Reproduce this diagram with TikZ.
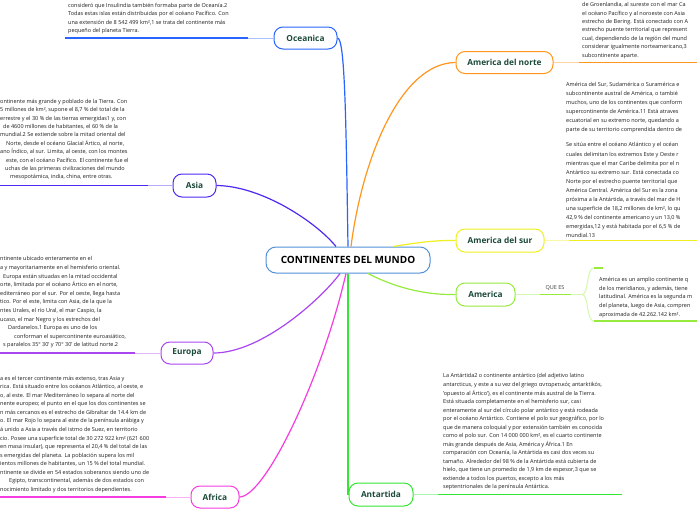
\documentclass[tikz,border=0pt]{standalone}
\usepackage{fontspec}
\setmainfont{Open Sans}
\definecolor{lbl}{RGB}{28,74,56}
\definecolor{txt}{RGB}{30,30,30}
\definecolor{cB}{RGB}{80,145,215}
\definecolor{ocB}{RGB}{40,100,255}
\definecolor{asB}{RGB}{80,40,240}
\definecolor{euB}{RGB}{170,70,240}
\definecolor{afB}{RGB}{245,60,225}
\definecolor{antB}{RGB}{50,230,50}
\definecolor{amB}{RGB}{150,235,60}
\definecolor{amsB}{RGB}{240,240,30}
\definecolor{amnB}{RGB}{255,150,30}
\tikzset{
  nd/.style={draw=#1, line width=1pt, rounded corners=9pt, fill=white, text=lbl,
    font=\fontsize{8.3}{10}\selectfont\bfseries, minimum height=22pt, inner sep=0pt},
  body/.style={anchor=south west, align=left, inner sep=0pt, text=txt,
    font=\fontsize{5.5}{8.5}\selectfont},
  br/.style={draw=#1, line width=1.2pt},
  thin/.style={draw=#1!40!white, line width=1pt},
  thick/.style={draw=#1, line width=1.5pt}
}
\begin{document}
\begin{tikzpicture}[x=1pt,y=-1pt]
\useasboundingbox (0,0) rectangle (697,520);
\clip (0,0) rectangle (697,520);
\fill[white] (0,0) rectangle (697,520);

% central and main nodes
\node[draw=cB, line width=1pt, rounded corners=10pt, fill=white, minimum width=164pt,
  minimum height=26pt, inner sep=0pt, text=black, font=\fontsize{10}{12}\selectfont\bfseries]
  (c) at (348,260) {CONTINENTES DEL MUNDO};
\node[nd=ocB, minimum width=63pt] (oc) at (305.5,38) {Oceanica};
\node[nd=amnB, minimum width=97pt] (amn) at (504.5,62.5) {America del norte};
\node[nd=amsB, minimum width=88pt, minimum height=23pt] (ams) at (500,240.5) {America del sur};
\node[nd=amB, minimum width=59pt, minimum height=23pt] (am) at (485.5,294.5) {America};
\node[nd=antB, minimum width=64pt, minimum height=23pt] (ant) at (381,494.5) {Antartida};
\node[nd=asB, minimum width=43pt, minimum height=23pt] (as) at (194.5,185.5) {Asia};
\node[nd=euB, minimum width=52pt] (eu) at (187,353) {Europa};
\node[nd=afB, minimum width=48pt] (af) at (215,497) {Africa};

% branches from the centre
\draw[br=ocB] (oc.east) .. controls (345,38) and (346,120) .. (c.north);
\draw[br=amnB] ([xshift=3pt]c.north) .. controls (362,160) and (400,63) .. (amn.west);
\draw[br=asB] (as.east) .. controls (262,186) and (316,222) .. ([xshift=-12pt]c.north);
\draw[br=euB] (eu.east) .. controls (262,353) and (322,298) .. ([xshift=-8pt]c.south);
\draw[br=afB] (af.east) .. controls (265,497) and (322,378) .. ([xshift=-2pt]c.south);
\draw[br=antB] (c.south) |- (ant.west);
\draw[br=amsB] ([xshift=45pt]c.north) .. controls (415,243) and (435,240) .. (ams.west);
\draw[br=amB] ([xshift=20pt]c.south) .. controls (400,290) and (430,295) .. (am.west);

% underline coordinates
\coordinate (ocA) at (248,38);   \coordinate (ocB2) at (65,38);
\coordinate (asA) at (148,185.5); \coordinate (asB2) at (0,185.5);
\coordinate (euA) at (135,353);  \coordinate (euB2) at (0,353);
\coordinate (afA) at (166,497);  \coordinate (afB2) at (0,497);
\coordinate (amnA) at (579,62.5); \coordinate (amnB2) at (697,62.5);
\coordinate (amsA) at (569,240.5); \coordinate (amsB2) at (697,240.5);
\coordinate (antA) at (438,494.5); \coordinate (antB2) at (622,494.5);

\draw[thin=ocB] (oc.west) -- (ocA); \draw[thick=ocB] (ocA) -- (ocB2);
\draw[thin=asB] (as.west) -- (asA); \draw[thick=asB] (asA) -- (asB2);
\draw[thin=euB] (eu.west) -- (euA); \draw[thick=euB] (euA) -- (euB2);
\draw[thin=afB] (af.west) -- (afA); \draw[thick=afB] (afA) -- (afB2);
\draw[thin=amnB] (amn.east) -- (amnA); \draw[thick=amnB] (amnA) -- (amnB2);
\draw[thin=amsB] (ams.east) -- (amsA); \draw[thick=amsB] (amsA) -- (amsB2);
\draw[thin=antB] (ant.east) -- (antA); \draw[thick=antB] (antA) -- (antB2);

% America: "QUE ES" connector and brace
\coordinate (q1) at (540,294.5); \coordinate (q2) at (571,294.5); \coordinate (bm) at (582,294.5);
\coordinate (bt) at (594,268); \coordinate (bte) at (603,268);
\coordinate (bb) at (594,321); \coordinate (bbe) at (697,321);
\draw[thin=amB] (am.east) -- (q1); \draw[thick=amB] (q1) -- (q2); \draw[thin=amB] (q2) -- (bm);
\draw[thin=amB] (bm) .. controls (589,294.5) and (586,268) .. (bt);
\draw[thin=amB] (bm) .. controls (589,294.5) and (586,321) .. (bb);
\draw[thick=amB] (bt) -- (bte);
\draw[thick=amB] (bb) -- (bbe);
\node[inner sep=0pt, text=black!75, font=\fontsize{5.5}{7}\selectfont] (qe) at (555,288) {QUE ES};

% text blocks
\node[body] (tOc) at (68,34.5) {consideró que Insulindia también formaba parte de Oceanía.2\\
Todas estas islas están distribuidas por el océano Pacífico. Con\\
una extensión de 8 542 499 km²,1 se trata del continente más\\
pequeño del planeta Tierra.};

\node[body, font=\fontsize{5.5}{8.4}\selectfont] (tAs) at (0,180.5) {ontinente más grande y poblado de la Tierra. Con\\
5 millones de km², supone el 8,7 \% del total de la\\
errestre y el 30 \% de las tierras emergidas1 y, con\\
\hspace{3pt}de 4600 millones de habitantes, el 60 \% de la\\
mundial.2 Se extiende sobre la mitad oriental del\\
\hspace{6pt}Norte, desde el océano Glacial Ártico, al norte,\\
ano Índico, al sur. Limita, al oeste, con los montes\\
\hspace{6pt}este, con el océano Pacífico. El continente fue el\\
\hspace{5pt}uchas de las primeras civilizaciones del mundo\\
\hspace{10pt}mesopotámica, india, china, entre otras.};

\node[body, font=\fontsize{5.5}{8.6}\selectfont] (tEu) at (0,348.5) {ntinente ubicado enteramente en el\\
a y mayoritariamente en el hemisferio oriental.\\
\hspace{3pt}Europa están situadas en la mitad occidental\\
orte, limitada por el océano Ártico en el norte,\\
editerráneo por el sur. Por el oeste, llega hasta\\
tico. Por el este, limita con Asia, de la que la\\
ntes Urales, el río Ural, el mar Caspio, la\\
ucaso, el mar Negro y los estrechos del\\
\hspace{8pt}Dardanelos.1 Europa es uno de los\\
\hspace{14pt}conforman el supercontinente euroasiático,\\
\hspace{3pt}s paralelos 35° 30' y 70° 30' de latitud norte.2};

\node[body, font=\fontsize{5.5}{8.54}\selectfont] (tAf) at (0,492.8) {a es el tercer continente más extenso, tras Asia y\\
rica. Está situado entre los océanos Atlántico, al oeste, e\\
o, al este. El mar Mediterráneo lo separa al norte del\\
nente europeo; el punto en el que los dos continentes se\\
n más cercanos es el estrecho de Gibraltar de 14.4 km de\\
o. El mar Rojo lo separa al este de la península arábiga y\\
á unido a Asia a través del istmo de Suez, en territorio\\
cio. Posee una superficie total de 30 272 922 km² (621 600\\
en masa insular), que representa el 20,4 \% del total de las\\
s emergidas del planeta. La población supera los mil\\
ientos millones de habitantes, un 15 \% del total mundial.\\
ntinente se divide en 54 estados soberanos siendo uno de\\
\hspace{9pt}Egipto, transcontinental, además de dos estados con\\
nocimiento limitado y dos territorios dependientes.};

\node[body, font=\fontsize{5.5}{8.44}\selectfont] (tAmn) at (582,58.8) {de Groenlandia, al sureste con el mar Ca\\
el océano Pacífico y al noroeste con Asia\\
estrecho de Bering. Está conectado con A\\
estrecho puente territorial que represent\\
cual, dependiendo de la región del mund\\
considerar igualmente norteamericano,3\\
subcontinente aparte.};

\node[body, font=\fontsize{5.5}{9.1}\selectfont] (tAms) at (566,238.2) {América del Sur, Sudamérica o Suramérica e\\
subcontinente austral de América, o tambié\\
muchos, uno de los continentes que conform\\
supercontinente de América.11 Está atraves\\
ecuatorial en su extremo norte, quedando a\\
parte de su territorio comprendida dentro de\\[6pt]
Se sitúa entre el océano Atlántico y el océan\\
cuales delimitan los extremos Este y Oeste r\\
mientras que el mar Caribe delimita por el n\\
Antártico su extremo sur. Está conectada co\\
Norte por el estrecho puente territorial que\\
América Central. América del Sur es la zona\\
próxima a la Antártida, a través del mar de H\\
una superficie de 18,2 millones de km², lo qu\\
42,9 \% del continente americano y un 13,0 \%\\
emergidas,12 y está habitada por el 6,5 \% de\\
mundial.13};

\node[body, font=\fontsize{5.5}{8.75}\selectfont] (tAm) at (599,317.8) {América es un amplio continente q\\
de los meridianos, y además, tiene\\
latitudinal. América es la segunda m\\
del planeta, luego de Asia, compren\\
aproximada de 42.262.142 km².};

\node[body, font=\fontsize{5.5}{8.54}\selectfont] (tAnt) at (443,490.5) {La Antártida2 o continente antártico (del adjetivo latino\\
antarcticus, y este a su vez del griego ανταρκτικός antarktikós,\\
'opuesto al Ártico'), es el continente más austral de la Tierra.\\
Está situada completamente en el hemisferio sur, casi\\
enteramente al sur del círculo polar antártico y está rodeada\\
por el océano Antártico. Contiene el polo sur geográfico, por lo\\
que de manera coloquial y por extensión también es conocida\\
como el polo sur. Con 14 000 000 km², es el cuarto continente\\
más grande después de Asia, América y África.1 En\\
comparación con Oceanía, la Antártida es casi dos veces su\\
tamaño. Alrededor del 98 \% de la Antártida está cubierta de\\
hielo, que tiene un promedio de 1,9 km de espesor,3 que se\\
extiende a todos los puertos, excepto a los más\\
septentrionales de la península Antártica.};
\end{tikzpicture}
\end{document}
